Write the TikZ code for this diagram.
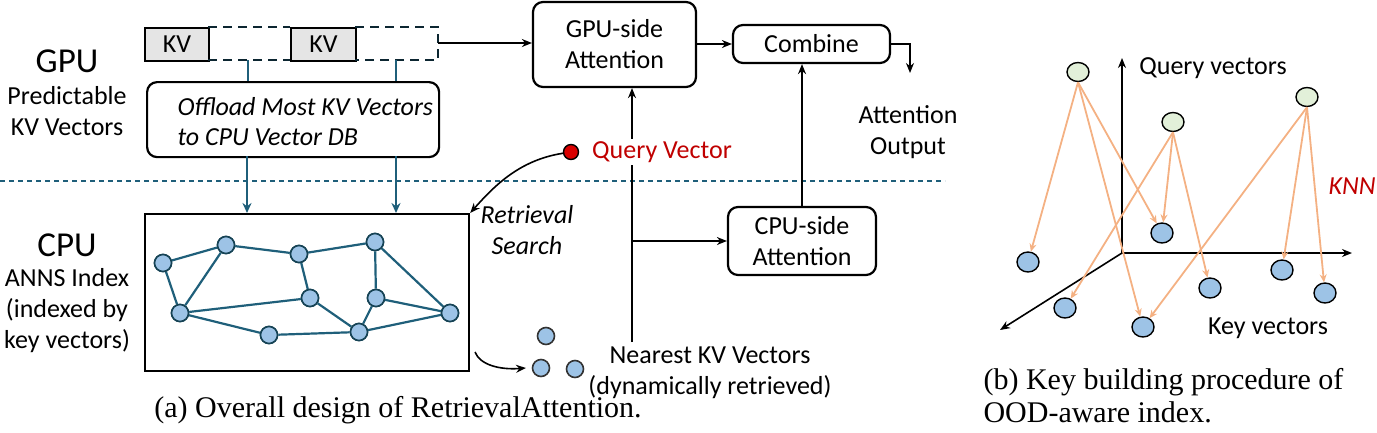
\documentclass[tikz,border=0pt]{standalone}
\usepackage{fontspec}
\setmainfont{Liberation Serif}
\newfontfamily\calfont{Carlito}
\usetikzlibrary{arrows.meta,shapes.geometric}
\definecolor{teal1}{HTML}{1F5F7A}
\definecolor{nodeb}{HTML}{9DC3E6}
\definecolor{orng}{HTML}{F4B183}
\definecolor{grn}{HTML}{E2F0D9}
\definecolor{qred}{HTML}{C00000}
\begin{document}
\begin{tikzpicture}[x=1pt,y=-1pt,
  every node/.style={font=\calfont\fontsize{26}{28}\selectfont},
  tf/.style={font=\calfont\fontsize{26}{31}\selectfont},
  box/.style={draw,line width=2.2pt,rounded corners=10pt},
  gn/.style={circle,draw=teal1!70!black,fill=nodeb,line width=1.6pt,minimum size=17pt,inner sep=0},
  ge/.style={teal1,line width=2.2pt},
  ar/.style={-{Stealth[length=10pt,width=8pt]},line width=1.6pt},
  tar/.style={teal1,line width=2.2pt,-{Stealth[length=10pt,width=9pt]}},
  qn/.style={ellipse,draw,line width=1.4pt,fill=grn,minimum width=22pt,minimum height=19pt,inner sep=0},
  kn/.style={ellipse,draw,line width=1.4pt,fill=nodeb,minimum width=22pt,minimum height=20pt,inner sep=0},
  oa/.style={orng,line width=1.8pt,-{Stealth[length=8pt,width=7pt]}},
  captxt/.style={font=\fontsize{30}{33}\selectfont}]
\useasboundingbox (0,0) rectangle (1377,432);
% GPU strip
\node[draw,line width=2.2pt,fill=gray!20,minimum width=64pt,minimum height=33pt,anchor=north west,inner sep=0] (kv1) at (144,27) {KV};
\node[draw,line width=2.2pt,fill=gray!20,minimum width=65pt,minimum height=33pt,anchor=north west,inner sep=0] (kv2) at (290,27) {KV};
\draw[teal1!40!black,line width=2.2pt,dash pattern=on 9pt off 6pt] (208,27) -- (290,27) (208,60) -- (290,60) (355,27) -- (438,27) -- (438,60) -- (355,60);
\coordinate (sr) at (438,43);
\node[box,minimum width=292pt,minimum height=75pt,anchor=north west] (off) at (146,81) {};
\node[anchor=west,align=left,font=\calfont\itshape\fontsize{26}{30}\selectfont] (offt) at (174,122) {Offload Most KV Vectors\\to CPU Vector DB};
\draw[ge] (248,60) -- (248,81) (396,60) -- (396,81);
\draw[teal1,dash pattern=on 5pt off 4pt,line width=1.2pt] (0,181) -- (945,181);
% labels
\node[font=\calfont\fontsize{35}{36}\selectfont] (gpu) at (67,61) {GPU};
\node[align=center,tf] (gpul) at (67,111) {Predictable\\KV Vectors};
\node[font=\calfont\fontsize{35}{36}\selectfont] (cpu) at (67,245) {CPU};
\node[align=center,tf] (cpul) at (67,311) {ANNS Index\\(indexed by\\key vectors)};
% ANNS box
\node[draw,line width=2.2pt,minimum width=324pt,minimum height=157pt,anchor=north west,inner sep=0] (ann) at (144,213) {};
\draw[tar] (247,156) -- (247,213);
\draw[tar] (396,156) -- (396,213);
\foreach \n/\x/\y in {n1/163/263,n2/226/245,n3/299/254,n4/375/242,n5/310/298,n6/376/298,n7/180/313,n8/269/335,n9/359/332,n10/450/313}
  \node[gn] (\n) at (\x,\y) {};
\foreach \a/\b in {n1/n2,n1/n7,n2/n7,n2/n3,n3/n4,n3/n5,n7/n5,n7/n8,n8/n9,n5/n9,n4/n6,n4/n10,n6/n9,n6/n10,n9/n10}
  \draw[ge] (\a) -- (\b);
\foreach \n in {n1,n2,n3,n4,n5,n6,n7,n8,n9,n10} \node[gn] at (\n) {};
% attention boxes
\node[box,minimum width=163pt,minimum height=85pt,align=center,tf] (gpa) at (614.5,44.5) {GPU-side\\Attention};
\node[box,minimum width=157pt,minimum height=38pt] (comb) at (811.5,44) {Combine};
\node[box,minimum width=148pt,minimum height=68pt,align=center,tf] (cpa) at (802,241) {CPU-side\\Attention};
\draw[ar] (sr) -- (gpa.west |- sr);
\draw[ar] (gpa.east |- comb) -- (comb.west);
\coordinate (ao) at (910,73);
\draw[ar] (comb.east) -| (ao);
\node[align=center,tf] (aot) at (908,132) {Attention\\Output};
\draw[ar] (cpa.north) -- (cpa.north |- comb.south);
% query
\coordinate (vb) at (632,342);
\draw[ar] (vb) -- (gpa.south -| vb);
\coordinate (br) at (632,241);
\draw[ar] (br) -- (cpa.west);
\node[circle,draw,fill=red!85!black,line width=1.4pt,minimum size=15pt,inner sep=0] (qc) at (571,152) {};
\node[text=qred,fill=white,inner sep=2pt] (qt) at (662,152) {Query Vector};
\draw[ar] (qc) .. controls (520,160) and (495,185) .. (ann.north east);
\node[align=center,font=\calfont\itshape\fontsize{26}{31}\selectfont] (rs) at (527,230) {Retrieval\\Search};
\coordinate (ca) at (475,352);
\coordinate (cb) at (526,368);
\draw[ar] (ca) .. controls (480,365) and (500,370) .. (cb);
\node[gn,draw=black!80] (s1) at (546,336) {};
\node[gn,draw=black!80] (s2) at (541,368) {};
\node[gn,draw=black!80] (s3) at (575,369) {};
\node[align=center,fill=white,tf] (nk) at (710,373) {Nearest KV Vectors\\(dynamically retrieved)};
\node[captxt] (capa) at (398,410) {(a) Overall design of RetrievalAttention.};
% right panel
\coordinate (o) at (1122,253);
\coordinate (ay) at (1122,58);
\coordinate (ax) at (1352,253);
\coordinate (az) at (1000,330);
\draw[ar] (o) -- (ay);
\draw[ar] (o) -- (ax);
\draw[ar] (o) -- (az);
\foreach \n/\x/\y in {k1/1028/262,k2/1162/233,k3/1210/288,k4/1282/270,k5/1325/293,k6/1065/308,k7/1143/327}
  \node[kn] (\n) at (\x,\y) {};
\foreach \n/\x/\y in {q1/1078/72,q2/1173/122,q3/1307/97}
  \node[qn] (\n) at (\x,\y) {};
\foreach \a/\b in {q1/k1,q1/k7,q1/k2,q2/k2,q2/k3,q2/k6,q3/k7,q3/k4,q3/k5}
  \draw[oa] (\a.south) -- (\b);
\node (qv) at (1213,68) {Query vectors};
\node[text=qred,font=\calfont\itshape\fontsize{26}{28}\selectfont] (knn) at (1352,186) {KNN};
\node (kv) at (1268,328) {Key vectors};
\node[captxt,align=left,anchor=west] (capb) at (980,396) {(b) Key building procedure of\\OOD-aware index.};
\end{tikzpicture}
\end{document}
